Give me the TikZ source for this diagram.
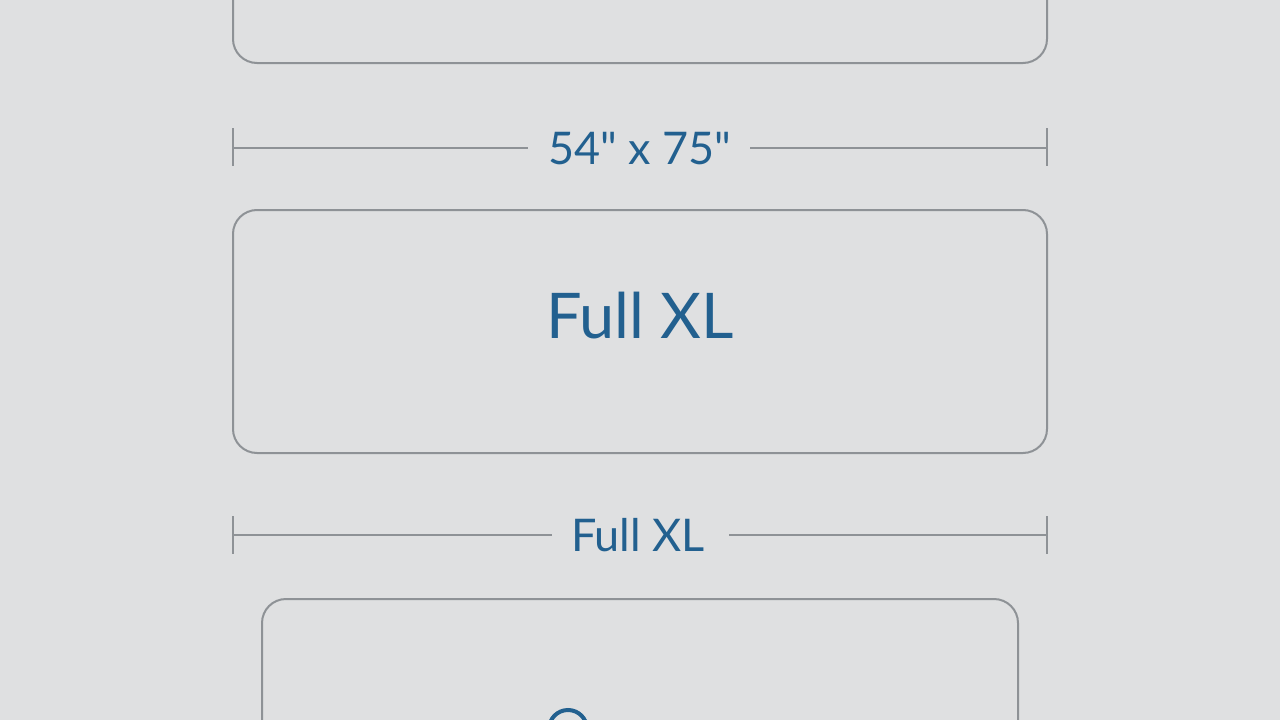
\documentclass[tikz,border=0pt]{standalone}
\usepackage{fontspec}
\newfontfamily\lato{Lato}
\definecolor{bg}{HTML}{DFE0E1}
\definecolor{ln}{HTML}{8E9296}
\definecolor{tx}{HTML}{22608F}
\begin{document}
\begin{tikzpicture}[x=1pt,y=-1pt,
  panel/.style={draw=ln,line width=2pt,rounded corners=24pt},
  dimline/.style={draw=ln,line width=2pt},
  dimlabel/.style={text=tx,inner sep=0pt,font=\lato\fontsize{45}{45}\selectfont},
  biglabel/.style={text=tx,inner sep=0pt,font=\lato\fontsize{63}{63}\selectfont}]
\useasboundingbox[fill=bg] (0,0) rectangle (1280,720);
\begin{scope}
\clip (0,0) rectangle (1280,720);
% top box
\draw[panel] (233,-60) rectangle (1047,63);
% dimension 1
\coordinate (d1l) at (233,148);
\coordinate (d1r) at (1047,148);
\node[dimlabel] (t1) at (640,149) {54" x 75"};
\draw[dimline] (233,128) -- (233,166);
\draw[dimline] (1047,128) -- (1047,166);
\draw[dimline] (d1l) -- (528,148);
\draw[dimline] (750,148) -- (d1r);
% middle box
\draw[panel] (233,210) rectangle (1047,453);
\node[biglabel] (m) at (640,316) {Full XL};
% dimension 2
\coordinate (d2l) at (233,535);
\coordinate (d2r) at (1047,535);
\node[dimlabel] (t2) at (638,535) {Full XL};
\draw[dimline] (233,516) -- (233,554);
\draw[dimline] (1047,516) -- (1047,554);
\draw[dimline] (d2l) -- (552,535);
\draw[dimline] (729,535) -- (d2r);
% bottom box
\draw[panel] (262,599) rectangle (1018,800);
\draw[tx,line width=4pt] (568,729) circle (19);
\end{scope}
\end{tikzpicture}
\end{document}
